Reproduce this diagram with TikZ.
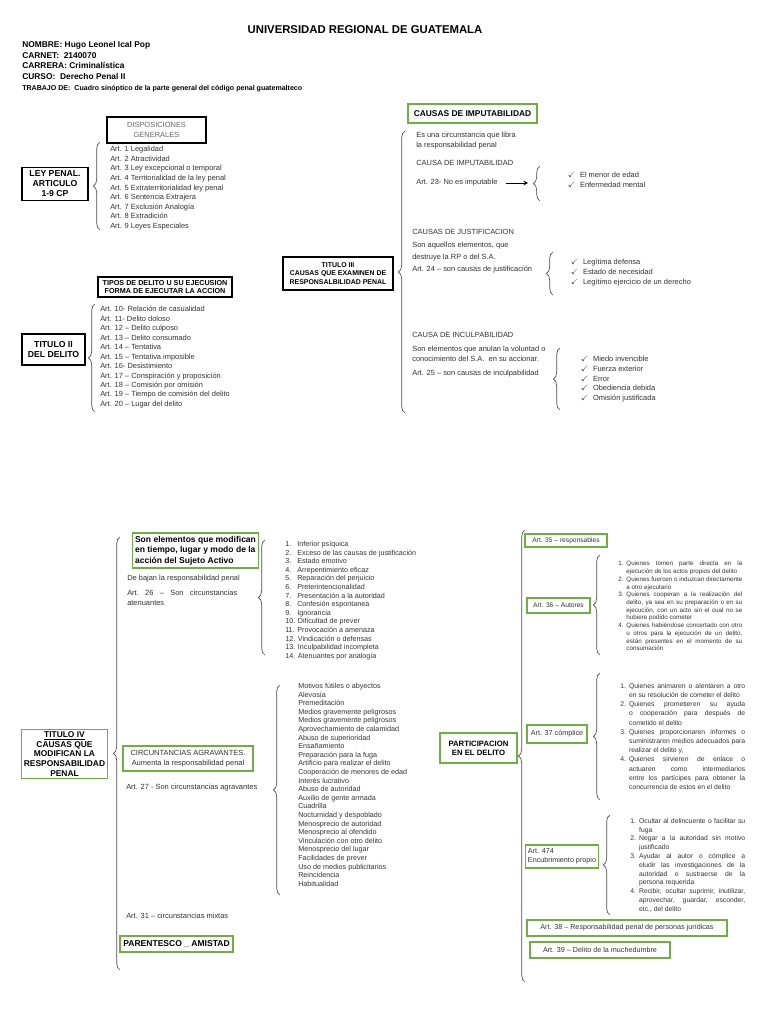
\documentclass[tikz,border=0pt]{standalone}
\usepackage{fontspec}
\usepackage{amssymb}
\setmainfont{Liberation Sans}
\usetikzlibrary{decorations.pathreplacing}
\definecolor{grn}{HTML}{70AD47}
\definecolor{txt}{HTML}{333333}
\newcommand\itm[2]{\hangindent=1.3em\hangafter=1\noindent\makebox[1.3em][l]{#1}#2\par}
\tikzset{
 brc/.style={draw=black!70,line width=0.5pt,decorate,decoration={brace,amplitude=5pt}},
 bbox/.style={draw,line width=0.8pt,inner sep=2pt,align=center,font=\bfseries\fontsize{6.5}{7.5}\selectfont},
 gbox/.style={draw=grn,line width=0.8pt,inner sep=2pt,text=txt},
 sm/.style={inner sep=0,anchor=north west,align=left,text=txt,font=\fontsize{5.6}{7.2}\selectfont},
}
\begin{document}
\hyphenpenalty=10000 \exhyphenpenalty=10000
\begin{tikzpicture}[x=0.75pt,y=-0.75pt]
\useasboundingbox (0,0) rectangle (768,1024);
\fill[white] (0,0) rectangle (768,1024);
% header
\node[font=\bfseries\fontsize{8.5}{10}\selectfont] (title) at (365,30) {UNIVERSIDAD REGIONAL DE GUATEMALA};
\node[anchor=north west,inner sep=0,align=left,font=\bfseries\fontsize{6.3}{8.1}\selectfont] (hdr) at (22,41)
 {NOMBRE: Hugo Leonel Ical Pop\\CARNET:\ \ 2140070\\CARRERA: Criminalística\\CURSO:\ \ Derecho Penal II};
\node[anchor=north west,inner sep=0,font=\bfseries\fontsize{5.3}{6}\selectfont] (trab) at (22,85) {TRABAJO DE:\ \ Cuadro sinóptico de la parte general del código penal guatemalteco};
% LEY PENAL
\node[draw,line width=0.8pt,minimum width=99pt*0.75,minimum height=26pt*0.75,align=center,text=black!60,font=\fontsize{5.6}{7.5}\selectfont] (disp) at (156.5,130) {DISPOSICIONES\\GENERALES};
\node[bbox,minimum width=66*0.75pt,minimum height=33*0.75pt] (ley) at (55,184) {LEY PENAL.\\ARTICULO\\1-9 CP};
\draw[brc] (100,230) -- (100,142);
\node[sm] (arts1) at (110,146) {Art. 1 Legalidad\\Art. 2 Atractividad\\Art. 3 Ley excepcional o temporal\\Art. 4 Territorialidad de la ley penal\\Art. 5 Extraterritorialidad ley penal\\Art. 6 Sentencia Extrajera\\Art. 7 Exclusión Analogía\\Art. 8 Extradición\\Art. 9 Leyes Especiales};
% TITULO II
\node[bbox,minimum width=134*0.75pt,minimum height=20*0.75pt,font=\bfseries\fontsize{5.4}{6.6}\selectfont] (tipos) at (165,287) {TIPOS DE DELITO U SU EJECUSION\\FORMA DE EJECUTAR LA ACCION};
\node[bbox,minimum width=63*0.75pt,minimum height=31*0.75pt] (t2) at (53.5,349.5) {TITULO II\\DEL DELITO};
\draw[brc] (95,412) -- (95,304);
\node[sm,font=\fontsize{5.6}{7.1}\selectfont] (arts2) at (100,306) {Art. 10- Relación de casualidad\\Art. 11- Delito doloso\\Art. 12 – Delito culposo\\Art. 13 – Delito consumado\\Art. 14 – Tentativa\\Art. 15 – Tentativa imposible\\Art. 16- Desistimiento\\Art. 17 – Conspiración y proposición\\Art. 18 – Comisión por omisión\\Art. 19 – Tiempo de comisión del delito\\Art. 20 – Lugar del delito};
% TITULO III
\node[bbox,minimum width=110*0.75pt,minimum height=33*0.75pt,font=\bfseries\fontsize{5.2}{6.6}\selectfont] (t3) at (338,273.5) {TITULO III\\CAUSAS QUE EXAMINEN DE\\RESPONSALBILIDAD PENAL};
\draw[brc] (405,413) -- (405,131);
\node[gbox,minimum width=129*0.75pt,minimum height=19*0.75pt,text=black,font=\bfseries\fontsize{6.3}{7}\selectfont] (cimp) at (472.5,113.5) {CAUSAS DE IMPUTABILIDAD};
\node[sm] (es) at (416,132) {Es una circunstancia que libra\\la responsabilidad penal};
\node[sm] (cimp2) at (416,160) {CAUSA DE IMPUTABILIDAD};
\node[sm] (a23) at (416,179) {Art. 23- No es imputable};
\coordinate (b1tip) at (528,183);
\draw[-stealth,line width=0.5pt] (506,183) -- (b1tip);
\draw[brc] (540,201) -- (540,166);
\node[sm] (ch1) at (567,172) {$\checkmark$\ \ El menor de edad\\$\checkmark$\ \ Enfermedad mental};
\node[sm] (cj) at (412,229) {CAUSAS DE JUSTIFICACION};
\node[sm,font=\fontsize{5.6}{9}\selectfont] (son1) at (412,242) {Son aquellos elementos, que\\destruye la RP o del S.A.};
\node[sm] (a24) at (412,266) {Art. 24 – son causas de justificación};
\draw[brc] (553,295) -- (553,252);
\node[sm,font=\fontsize{5.6}{7.4}\selectfont] (ch2) at (570,259) {$\checkmark$\ \ Legítima defensa\\$\checkmark$\ \ Estado de necesidad\\$\checkmark$\ \ Legítimo ejercicio de un derecho};
\node[sm] (ci) at (412,332) {CAUSA DE INCULPABILIDAD};
\node[sm,font=\fontsize{5.6}{7}\selectfont] (son2) at (412,346) {Son elementos que anulan la voluntad o\\conocimiento del S.A.\ \ en su accionar.};
\node[sm] (a25) at (412,370) {Art. 25 – son causas de inculpabilidad};
\draw[brc] (560,410) -- (560,348);
\node[sm,font=\fontsize{5.6}{7.3}\selectfont] (ch3) at (580,356) {$\checkmark$\ \ Miedo invencible\\$\checkmark$\ \ Fuerza exterior\\$\checkmark$\ \ Error\\$\checkmark$\ \ Obediencia debida\\$\checkmark$\ \ Omisión justificada};
% TITULO IV
\node[gbox,minimum width=85*0.75pt,minimum height=44*0.75pt,align=center,text=black,font=\bfseries\fontsize{6.3}{7.2}\selectfont] (t4) at (64.5,754) {\underline{TITULO IV}\\CAUSAS QUE\\MODIFICAN LA\\RESPONSABILIDAD\\PENAL};
\draw[brc] (120,970) -- (120,537);
\node[gbox,minimum width=119*0.75pt,minimum height=35*0.75pt,align=left,text=black,font=\bfseries\fontsize{6.4}{8}\selectfont] (son3) at (195.5,550.5) {Son elementos que modifican\\en tiempo, lugar y modo de la\\acción del Sujeto Activo};
\node[sm] (baj) at (127,575) {De bajan la responsabilidad penal};
\node[sm,text width=110*0.75pt,align=justify] (a26) at (127,590) {Art.\ \ 26\ \ –\ \ Son\ \ circunstancias atenuantes};
\draw[brc] (265,655) -- (265,540);
\node[sm,font=\fontsize{5.4}{6.45}\selectfont] (aten) at (285,541) {1.\ \ \ Inferior psíquica\\2.\ \ \ Exceso de las causas de justificación\\3.\ \ \ Estado emotivo\\4.\ \ \ Arrepentimiento eficaz\\5.\ \ \ Reparación del perjuicio\\6.\ \ \ Preterintencionalidad\\7.\ \ \ Presentación a la autoridad\\8.\ \ \ Confesión espontanea\\9.\ \ \ Ignorancia\\10. Dificultad de prever\\11. Provocación a amenaza\\12. Vindicación o defensas\\13. Inculpabilidad incompleta\\14. Atenuantes por analogía};
\node[gbox,minimum width=130*0.75pt,minimum height=25*0.75pt,align=center,font=\fontsize{5.6}{7.2}\selectfont] (circ) at (188,758.5) {CIRCUNTANCIAS AGRAVANTES.\\Aumenta la responsabilidad penal};
\node[sm] (a27) at (126,784) {Art. 27 - Son circunstancias agravantes};
\draw[brc] (280,895) -- (280,685);
\node[sm,font=\fontsize{5.4}{6.45}\selectfont] (agr) at (298,683) {Motivos fútiles o abyectos\\Alevosía\\Premeditación\\Medios gravemente peligrosos\\Medios gravemente peligrosos\\Aprovechamiento de calamidad\\Abuso de superioridad\\Ensañamiento\\Preparación para la fuga\\Artificio para realizar el delito\\Cooperación de menores de edad\\Interés lucrativo\\Abuso de autoridad\\Auxilio de gente armada\\Cuadrilla\\Nocturnidad y despoblado\\Menosprecio de autoridad\\Menosprecio al ofendido\\Vinculación con otro delito\\Menosprecio del lugar\\Facilidades de prever\\Uso de medios publicitarios\\Reincidencia\\Habitualidad};
\node[sm] (a31) at (126,913) {Art. 31 – circunstancias mixtas};
\node[gbox,minimum width=113*0.75pt,minimum height=16*0.75pt,text=black,font=\bfseries\fontsize{6.4}{7}\selectfont] (par) at (176.5,944) {PARENTESCO \_ AMISTAD};
% PARTICIPACION
\node[gbox,minimum width=77*0.75pt,minimum height=30*0.75pt,align=center,text=black,font=\bfseries\fontsize{5.8}{7}\selectfont] (part) at (478.5,748) {PARTICIPACION\\EN EL DELITO};
\draw[brc] (525,982) -- (525,530);
\node[gbox,minimum width=82*0.75pt,minimum height=13*0.75pt,font=\fontsize{5}{6}\selectfont] (a35) at (566,540.5) {Art. 35 – responsables};
\node[gbox,minimum width=63*0.75pt,minimum height=15*0.75pt,font=\fontsize{5}{6}\selectfont] (a36) at (558.5,605.5) {Art. 36 – Autores};
\draw[brc] (600,655) -- (600,555);
\node[sm,text width=124*0.75pt,align=justify,font=\fontsize{4.7}{5.8}\selectfont] (l36) at (618,561) {%
\itm{1.}{Quienes tomen parte directa en la ejecución de los actos propios del delito}
\itm{2.}{Quienes fuercen o induzcan directamente a otro ejecutario}
\itm{3.}{Quienes cooperan a la realización del delito, ya sea en su preparación o en su ejecución, con un acto sin el cual no se hubiere podido cometer}
\itm{4.}{Quienes habiéndose concertado con otro u otros para la ejecución de un delito, están presentes en el momento de su consumación}};
\node[gbox,minimum width=60*0.75pt,minimum height=18*0.75pt,font=\fontsize{5.4}{6}\selectfont] (a37) at (557,734) {Art. 37 cómplice};
\draw[brc] (600,800) -- (600,673);
\node[sm,text width=125*0.75pt,align=justify,font=\fontsize{5.1}{6.9}\selectfont] (l37) at (620,683) {%
\itm{1.}{Quienes animaren o alentaren a otro en su resolución de cometer el delito}
\itm{2.}{Quienes prometieren su ayuda o cooperación para después de cometido el delito}
\itm{3.}{Quienes proporcionaren informes o suministraren medios adecuados para realizar el delito y,}
\itm{4.}{Quienes sirvieren de enlace o actuaren como intermediarios entre los partícipes para obtener la concurrencia de estos en el delito}};
\node[gbox,minimum width=70*0.75pt,minimum height=23*0.75pt,align=left,font=\fontsize{5.4}{7}\selectfont] (a474) at (562,856.5) {Art. 474\\Encubrimiento propio};
\draw[brc] (610,915) -- (610,815);
\node[sm,text width=115*0.75pt,align=justify,font=\fontsize{5.1}{6.6}\selectfont] (l474) at (630,818) {%
\itm{1.}{Ocultar al delincuente o facilitar su fuga}
\itm{2.}{Negar a la autoridad sin motivo justificado}
\itm{3.}{Ayudar al autor o cómplice a eludir las investigaciones de la autoridad o sustraerse de la persona requerida}
\itm{4.}{Recibir, ocultar suprimir, inutilizar, aprovechar, guardar, esconder, etc., del delito}};
\node[gbox,minimum width=200*0.75pt,minimum height=16*0.75pt,font=\fontsize{5.4}{6}\selectfont] (a38) at (627,928) {Art. 38 – Responsabilidad penal de personas jurídicas};
\node[gbox,minimum width=140*0.75pt,minimum height=16*0.75pt,font=\fontsize{5.4}{6}\selectfont] (a39) at (600,950) {Art. 39 – Delito de la muchedumbre};
\end{tikzpicture}
\end{document}
